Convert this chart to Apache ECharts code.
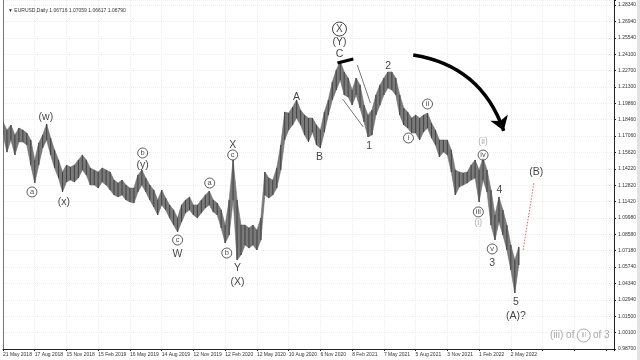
<!DOCTYPE html>
<html><head><meta charset="utf-8">
<script src="https://cdn.jsdelivr.net/npm/echarts@6/dist/echarts.min.js"></script>
<style>html,body{margin:0;padding:0;background:#fff}#c{width:640px;height:360px}</style>
</head><body><div id="c"></div>
<script>
const dateLabels = ['21 May 2018','17 Aug 2018','15 Nov 2018','15 Feb 2019','16 May 2019','14 Aug 2019','12 Nov 2019','12 Feb 2020','12 May 2020','10 Aug 2020','6 Nov 2020','8 Feb 2021','7 May 2021','5 Aug 2021','3 Nov 2021','1 Feb 2022','2 May 2022'];
const priceTicks = ['0.98700','1.00100','1.01500','1.02940','1.04340','1.05740','1.07180','1.08580','1.09980','1.11420','1.12820','1.14220','1.15620','1.17060','1.18460','1.19860','1.21300','1.22700','1.24100','1.25540','1.26940','1.28340'];

// one bar ~ 8 trading days (high / low)
const barHigh = [1.1826,1.1757,1.1800,1.1714,1.1774,1.1757,1.1731,1.1671,1.1499,1.1645,
1.1714,1.1809,1.1688,1.1585,1.1499,1.1395,1.1455,1.1438,1.1455,1.1499,
1.1542,1.1499,1.1430,1.1412,1.1395,1.1430,1.1412,1.1395,1.1326,1.1300,
1.1326,1.1283,1.1257,1.1257,1.1369,1.1412,1.1343,1.1283,1.1240,1.1154,
1.1240,1.1171,1.1111,1.1068,1.0999,1.1111,1.1154,1.1180,1.1111,1.1111,
1.1154,1.1197,1.1231,1.1154,1.1128,1.1068,1.0938,1.1154,1.1499,1.1154,
1.0938,1.0938,1.0913,1.0938,1.0895,1.0999,1.1395,1.1343,1.1326,1.1430,
1.1628,1.1912,1.1903,1.1955,1.2016,1.1929,1.1886,1.1860,1.1860,1.1800,
1.1757,1.1912,1.2016,1.2171,1.2274,1.2352,1.2257,1.2205,1.2102,1.2205,
1.2145,1.1972,1.1886,1.1929,1.2059,1.2145,1.2205,1.2257,1.2257,1.2205,
1.2059,1.1947,1.1912,1.1860,1.1886,1.1860,1.1886,1.1903,1.1817,1.1757,
1.1671,1.1671,1.1671,1.1585,1.1412,1.1395,1.1387,1.1395,1.1455,1.1499,
1.1412,1.1516,1.1412,1.1240,1.1025,1.1180,1.1068,1.0938,1.0766,1.0637,1.0749];
const barLow = [1.1714,1.1567,1.1671,1.1542,1.1654,1.1654,1.1628,1.1455,1.1300,1.1455,
1.1602,1.1671,1.1542,1.1430,1.1343,1.1223,1.1309,1.1326,1.1309,1.1343,
1.1412,1.1369,1.1283,1.1283,1.1257,1.1309,1.1283,1.1240,1.1197,1.1180,
1.1197,1.1154,1.1137,1.1128,1.1223,1.1283,1.1223,1.1154,1.1094,1.1025,
1.1111,1.1068,1.0999,1.0938,1.0878,1.0964,1.1042,1.1068,1.1025,1.0999,
1.1042,1.1085,1.1111,1.1051,1.1025,1.0913,1.0783,1.0852,1.1154,1.0637,
1.0680,1.0766,1.0740,1.0766,1.0723,1.0809,1.1197,1.1171,1.1197,1.1257,
1.1412,1.1671,1.1757,1.1800,1.1860,1.1800,1.1714,1.1654,1.1740,1.1628,
1.1602,1.1740,1.1886,1.2016,1.2102,1.2188,1.2059,1.2041,1.1972,1.2059,
1.1947,1.1826,1.1697,1.1714,1.1886,1.1972,1.2059,1.2119,1.2102,1.2059,
1.1886,1.1800,1.1774,1.1731,1.1731,1.1671,1.1740,1.1774,1.1688,1.1628,
1.1525,1.1567,1.1542,1.1395,1.1197,1.1266,1.1283,1.1300,1.1326,1.1343,
1.1137,1.1326,1.1223,1.0938,1.0809,1.0964,1.0852,1.0723,1.0551,1.0353,1.0594];
const lastPrice = 1.0679;

// projection toward (B): [bar position, price]
const projection = [[131.1, 1.0723], [133.8, 1.1300]];
// hand-drawn marks: [bar position, price]
const cLine = [[84.3, 1.2334], [86.3, 1.2352], [88.3, 1.2369]];
const trend1 = [[89.3, 1.2317], [92.6, 1.1990]];
const trend2 = [[85.6, 1.2024], [90.8, 1.1783]];
const arrowPath = [[103.4, 1.2403], [126.2, 1.1750]];

// wave labels: [bar position, price, text]
const circledLabels = [[7.3,1.1223,'a'],[35.2,1.1559,'b'],[44.0,1.0809,'c'],[52.1,1.1300,'a'],[56.4,1.0697,'b'],[57.9,1.1542,'c'],[102.2,1.1688,'i'],[107.0,1.1981,'ii'],[121.0,1.1541,'iv'],[119.8,1.1051,'iii'],[123.3,1.0732,'v']];
const bigCircled = [[84.8,1.2627,'X']];
const plainLabels = [[10.8,1.1869,'(w)'],[15.35,1.1137,'(x)'],[35.2,1.1455,'(y)'],[44.0,1.0689,'W'],[57.9,1.1628,'X'],[59.1,1.0568,'Y'],[59.1,1.0448,'(X)'],[74.0,1.2041,'A'],[79.8,1.1525,'B'],[84.8,1.2515,'(Y)'],[84.8,1.2412,'C'],[92.3,1.1619,'1'],[97.1,1.2308,'2'],[125.1,1.1240,'4'],[123.3,1.0611,'3'],[129.3,1.0275,'5'],[129.3,1.0155,'(A)?'],[134.4,1.1395,'(B)']];
const grayLabels = [[121.0,1.1654,'(ii)'],[119.8,1.0956,'(i)']];

const FONT = 'Liberation Sans, Arial, sans-serif';
const chart = echarts.init(document.getElementById('c'), null, {renderer: 'canvas'});
const n = barHigh.length;
const bars = barHigh.map((h, i) => {
  const j = Math.min(i + 1, n - 1);
  return [i, barLow[i], h, j, barLow[j], barHigh[j]];
});

chart.setOption({
  animation: false,
  backgroundColor: '#fff',
  textStyle: {fontFamily: FONT},
  title: [{
    text: '\u25BC EURUSD,Daily 1.06716 1.07059 1.06617 1.06790',
    left: 3, top: 3,
    textStyle: {fontSize: 5, fontWeight: 'normal', color: '#333', fontFamily: FONT}
  }, {
    text: '(iii) of {c|iii} of 3',
    left: 545, top: 324,
    textStyle: {fontSize: 10, fontWeight: 'normal', color: '#a8a8a8', fontFamily: FONT,
      rich: {c: {fontSize: 6.5, color: '#a8a8a8', borderColor: '#a8a8a8', borderWidth: 1, borderRadius: 7,
        width: 13, height: 13, lineHeight: 13, align: 'center', padding: 0}}}
  }],
  grid: {left: 2, right: 26, top: 0, bottom: 11, containLabel: false},
  xAxis: {
    type: 'value', min: 0, max: 154, interval: 8,
    axisLine: {show: true, lineStyle: {color: '#222'}},
    axisTick: {show: true, length: 2, lineStyle: {color: '#222'}},
    axisLabel: {fontSize: 5, color: '#333', align: 'left', margin: 3, fontFamily: FONT,
      formatter: v => (v % 8 === 0 && dateLabels[v / 8]) ? dateLabels[v / 8] : ''},
    splitLine: {show: true, lineStyle: {color: '#eeeeee', type: 'dotted'}}
  },
  yAxis: [{
    type: 'value', min: 0.987, max: 1.28771, position: 'left',
    axisLine: {show: true, lineStyle: {color: '#777'}},
    axisTick: {show: false}, axisLabel: {show: false}, splitLine: {show: false}
  }, {
    type: 'value', min: 0, max: 21.305, interval: 1, position: 'right',
    axisLine: {show: true, lineStyle: {color: '#222'}},
    axisTick: {show: true, length: 2, lineStyle: {color: '#222'}},
    axisLabel: {fontSize: 5, color: '#333', margin: 4, fontFamily: FONT,
      formatter: v => Number.isInteger(v) ? (priceTicks[v] || '') : ''},
    splitLine: {show: true, lineStyle: {color: '#eeeeee', type: 'dotted'}}
  }],
  series: [{
    type: 'custom', yAxisIndex: 0, data: bars, clip: true,
    renderItem: (params, api) => {
      const lo = api.coord([api.value(0), api.value(1)]);
      const hi = api.coord([api.value(0), api.value(2)]);
      const lo2 = api.coord([api.value(3), api.value(4)]);
      const hi2 = api.coord([api.value(3), api.value(5)]);
      return {type: 'group', children: [{
        type: 'polygon', shape: {points: [hi, hi2, lo2, lo]},
        style: {fill: '#7a7a7a', stroke: '#6e6e6e', lineWidth: 0.6}
      }, {
        type: 'line', shape: {x1: hi[0], y1: hi[1], x2: lo[0], y2: lo[1]},
        style: {stroke: '#444', lineWidth: 1}
      }]};
    },
    markLine: {
      silent: true, symbol: 'none',
      lineStyle: {opacity: 0},
      data: [{yAxis: lastPrice}],
      label: {position: 'end', distance: 1, formatter: '1.06790', fontSize: 5, color: '#fff',
        backgroundColor: '#000', padding: [1, 3], fontFamily: FONT}
    }
  }, {
    type: 'line', data: projection, symbol: 'none',
    lineStyle: {color: '#e06060', width: 1, type: [1.5, 1.5]}
  }, {
    type: 'line', data: cLine, symbol: 'none', smooth: true,
    lineStyle: {color: '#000', width: 3}
  }, {
    type: 'line', data: trend1, symbol: 'none', lineStyle: {color: '#555', width: 0.8}
  }, {
    type: 'line', data: trend2, symbol: 'none', lineStyle: {color: '#555', width: 0.8}
  }, {
    type: 'lines', coordinateSystem: 'cartesian2d',
    symbol: ['none', 'arrow'], symbolSize: 14,
    lineStyle: {color: '#000', width: 3.5, curveness: 0.3, opacity: 1},
    data: [{coords: arrowPath}]
  }, {
    type: 'scatter', data: circledLabels.map(d => [d[0], d[1], d[2]]),
    symbol: 'circle', symbolSize: 10,
    itemStyle: {color: '#fff', borderColor: '#222', borderWidth: 0.9},
    label: {show: true, position: 'inside', formatter: p => p.data[2], fontSize: 7.5, color: '#222', fontFamily: FONT}
  }, {
    type: 'scatter', data: bigCircled.map(d => [d[0], d[1], d[2]]),
    symbol: 'circle', symbolSize: 14,
    itemStyle: {color: '#fff', borderColor: '#111', borderWidth: 1},
    label: {show: true, position: 'inside', formatter: p => p.data[2], fontSize: 10, color: '#111', fontFamily: FONT}
  }, {
    type: 'scatter', data: plainLabels.map(d => [d[0], d[1], d[2]]),
    symbolSize: 0,
    label: {show: true, position: 'inside', formatter: p => p.data[2], fontSize: 10.5, color: '#111', fontFamily: FONT}
  }, {
    type: 'scatter', data: grayLabels.map(d => [d[0], d[1], d[2]]),
    symbolSize: 0,
    label: {show: true, position: 'inside', formatter: p => p.data[2], fontSize: 8.5, color: '#999', fontFamily: FONT}
  }],
  graphic: [{type: 'rect', shape: {x: 637, y: 0, width: 3, height: 360}, style: {fill: '#e2e2e2'}}]
});
</script></body></html>
